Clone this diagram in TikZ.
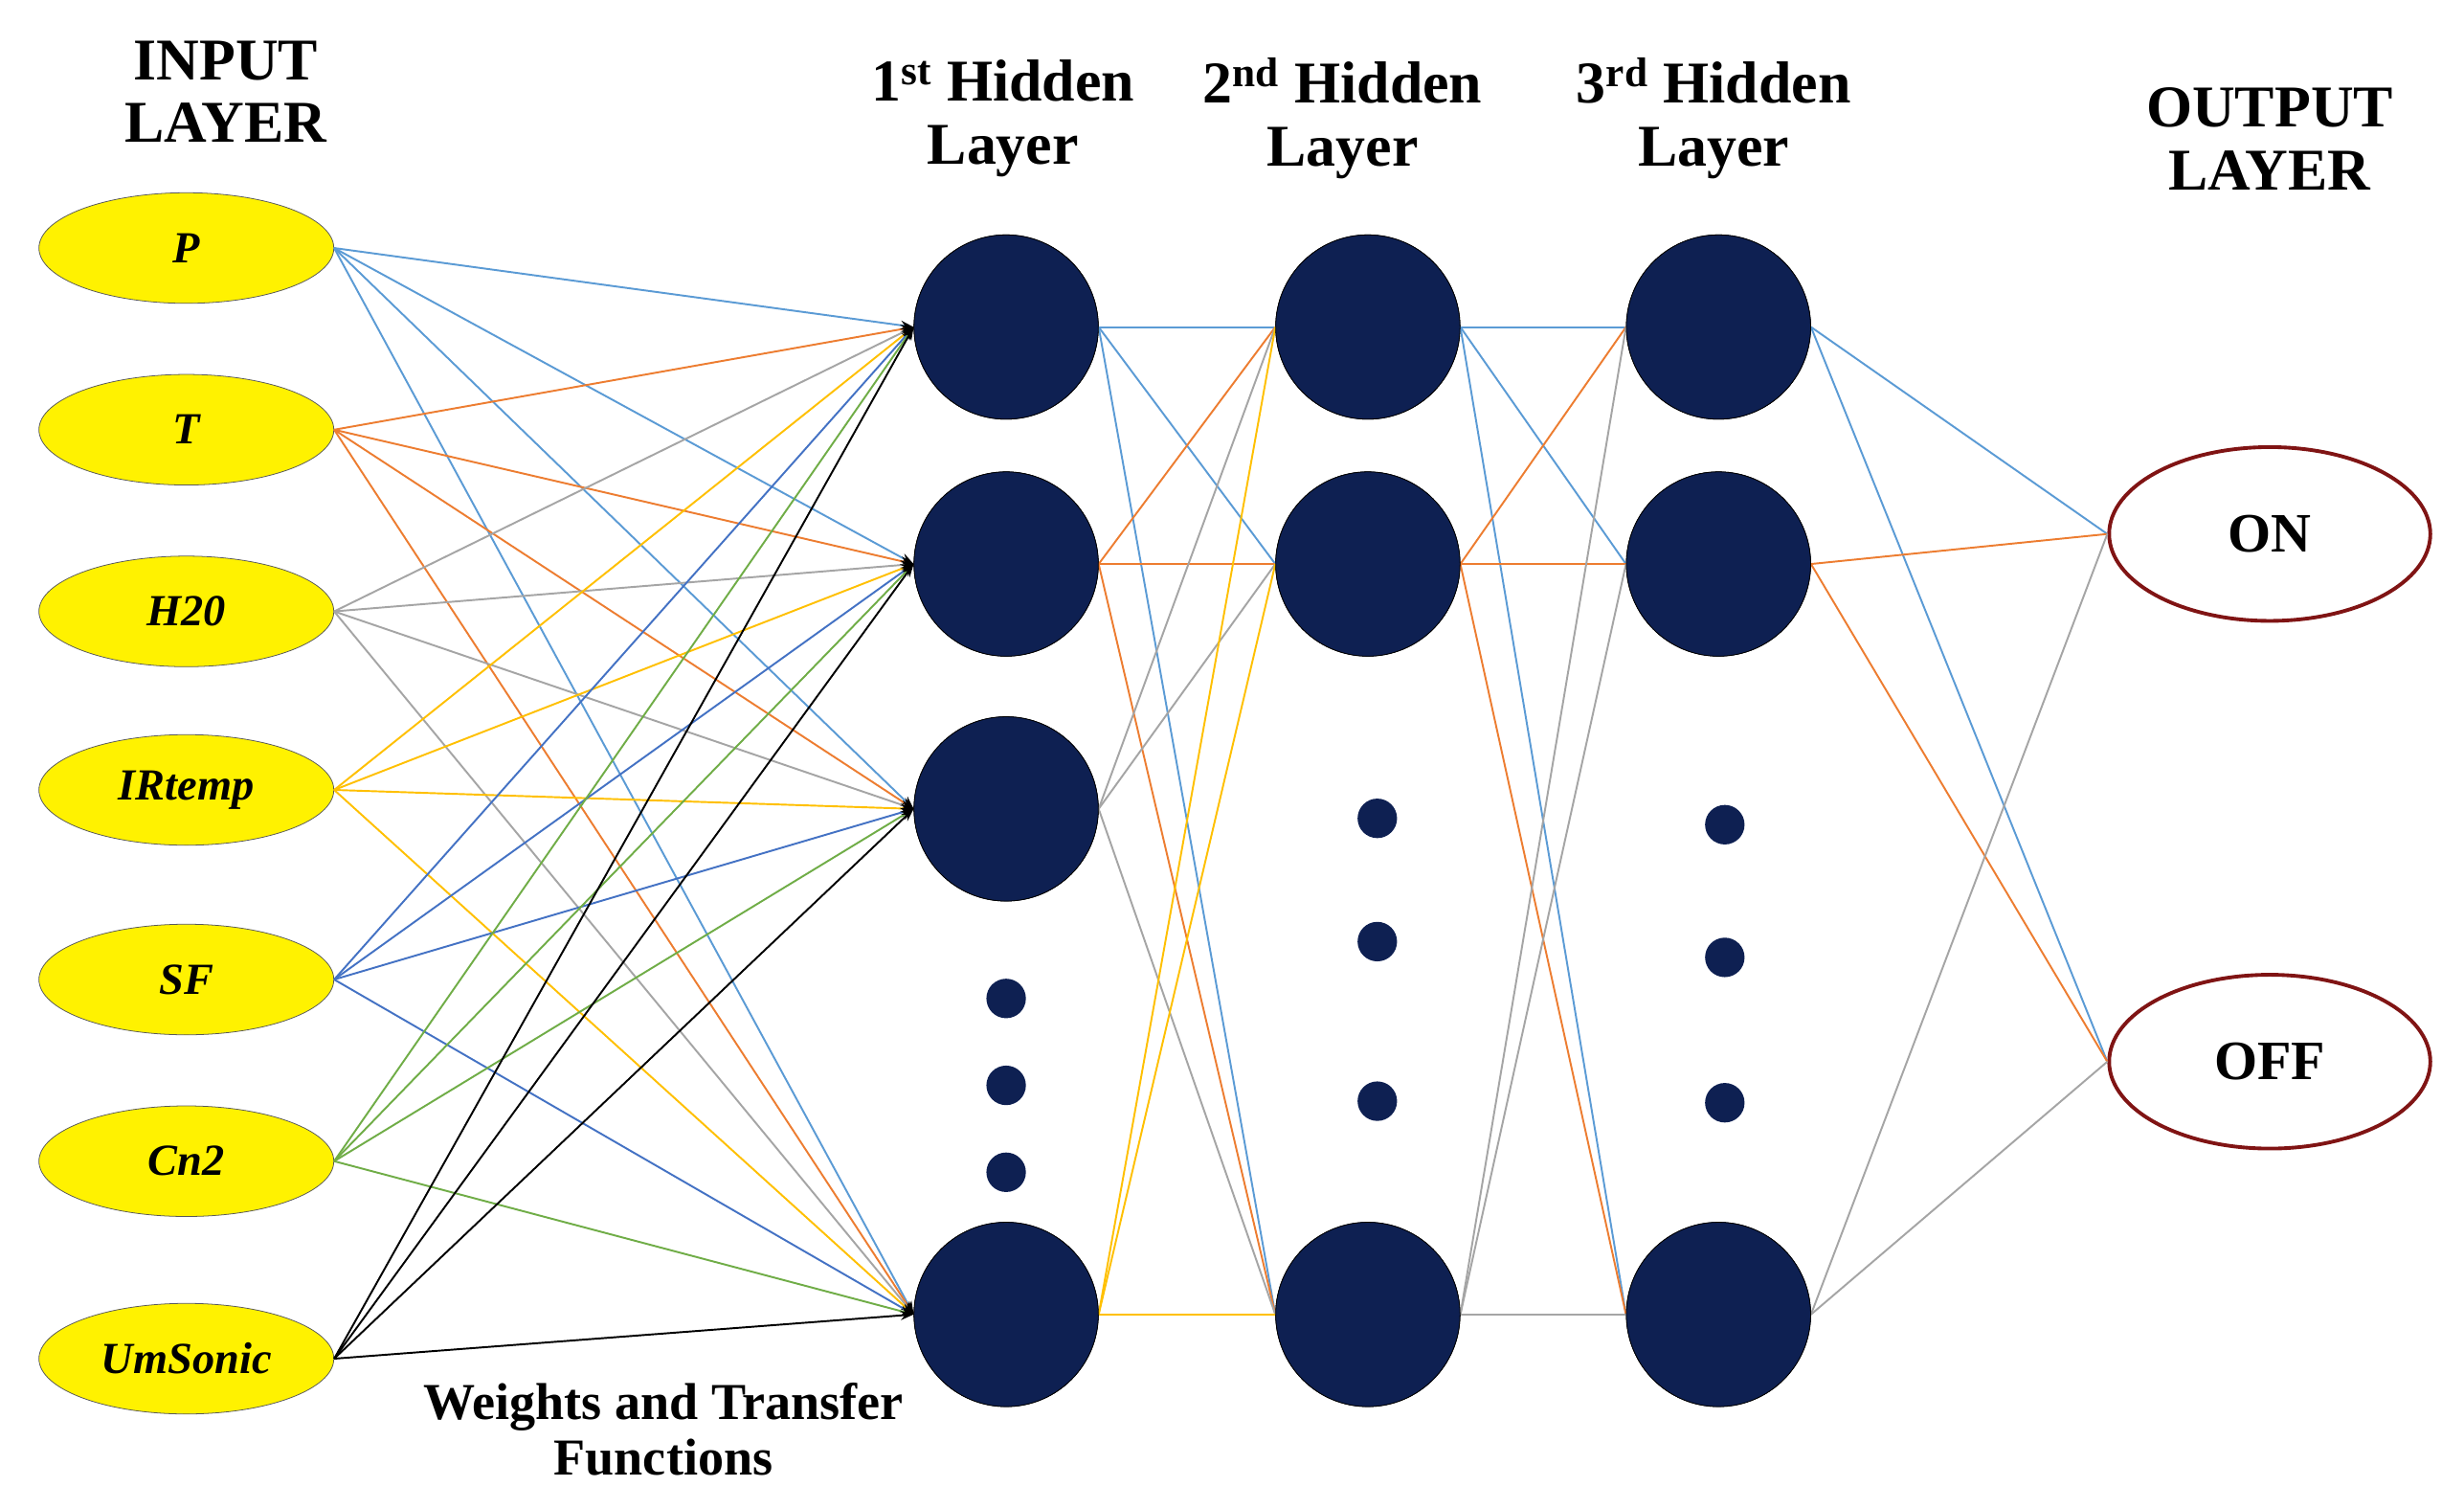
\documentclass[tikz,border=0pt]{standalone}
\usepackage{fontspec}
\setmainfont{Liberation Serif}
\usetikzlibrary{shapes.geometric,arrows.meta}
\definecolor{navy}{RGB}{14,32,82}
\definecolor{cblue}{RGB}{91,155,213}
\definecolor{corange}{RGB}{237,125,49}
\definecolor{cgray}{RGB}{165,165,165}
\definecolor{cyel}{RGB}{255,192,0}
\definecolor{cgreen}{RGB}{112,173,71}
\definecolor{cdblue}{RGB}{68,114,196}
\definecolor{dred}{RGB}{128,20,20}
\tikzset{
 inp/.style={ellipse,draw=gray!70!black,fill=yellow,minimum width=5.6cm,minimum height=2.1cm,font=\bfseries\itshape\fontsize{24}{26}\selectfont},
 hid/.style={circle,draw=black,fill=navy,minimum size=3.5cm,inner sep=0pt},
 dot/.style={circle,fill=navy,minimum size=0.75cm,inner sep=0pt},
 outn/.style={ellipse,draw=dred,line width=2pt,fill=white,minimum width=6.1cm,minimum height=3.3cm,font=\bfseries\fontsize{30}{32}\selectfont},
 lab/.style={align=center,font=\bfseries\fontsize{32}{34}\selectfont},
 wire/.style={line width=1pt},
 arr/.style={wire,-{Stealth[length=7pt,width=5pt,color=black]}}
}
\begin{document}
\begin{tikzpicture}[x=0.03cm,y=-0.03cm]
\useasboundingbox (0,0) rectangle (1560,955);
\fill[white] (0,0) rectangle (1560,955);
\foreach \n/\t/\y in {i1/P/157,i2/T/272,i3/H20/387,i4/IRtemp/500,i5/SF/620,i6/Cn2/735,i7/UmSonic/860}
  \node[inp] (\n) at (118,\y) {\t};
\foreach \c/\x in {a/637,b/866,c/1088}{
  \node[hid] (\c1) at (\x,207) {};
  \node[hid] (\c2) at (\x,357) {};
  \node[hid] (\c4) at (\x,832) {};
}
\node[hid] (a3) at (637,512) {};
\foreach \n/\x/\y in {d1/637/632,d2/637/687,d3/637/742,d4/872/518,d5/872/596,d6/872/697,d7/1092/522,d8/1092/606,d9/1092/698}
  \node[dot] (\n) at (\x,\y) {};
\node[outn] (o1) at (1437,338) {ON};
\node[outn] (o2) at (1437,672) {OFF};
\foreach \s/\col in {i1/cblue,i2/corange,i3/cgray,i4/cyel,i5/cdblue,i6/cgreen,i7/black}
  \foreach \t in {a1,a2,a3,a4}
    \draw[arr,draw=\col] (\s.east) -- (\t.west);
\foreach \s/\col in {a1/cblue,a2/corange,a3/cgray,a4/cyel}
  \foreach \t in {b1,b2,b4}
    \draw[wire,draw=\col] (\s.east) -- (\t.west);
\foreach \s/\col in {b1/cblue,b2/corange,b4/cgray}
  \foreach \t in {c1,c2,c4}
    \draw[wire,draw=\col] (\s.east) -- (\t.west);
\foreach \s/\col in {c1/cblue,c2/corange,c4/cgray}
  \foreach \t in {o1,o2}
    \draw[wire,draw=\col] (\s.east) -- (\t.west);
\foreach \c in {a1,a2,a3,a4,b1,b2,b4,c1,c2,c4}
  \path (\c) node[hid] {};
\node[lab] (l0) at (143,58) {INPUT\\LAYER};
\node[lab] (l1) at (635,75) {1\textsuperscript{st} Hidden\\Layer};
\node[lab] (l2) at (850,75) {2\textsuperscript{nd} Hidden\\Layer};
\node[lab] (l3) at (1085,75) {3\textsuperscript{rd} Hidden\\Layer};
\node[lab] (l4) at (1437,88) {OUTPUT\\LAYER};
\node[lab,font=\bfseries\fontsize{28}{30}\selectfont] (w) at (420,905) {Weights and Transfer\\Functions};
\end{tikzpicture}
\end{document}
